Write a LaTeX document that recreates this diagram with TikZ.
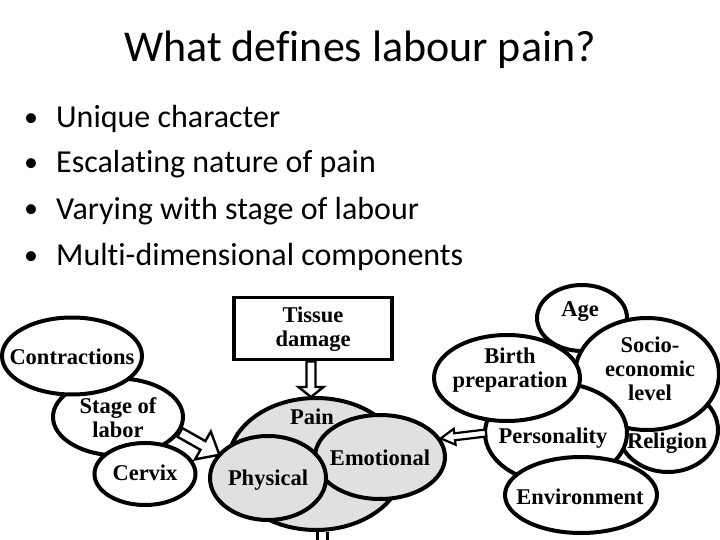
\documentclass[tikz,border=0pt]{standalone}
\usepackage{fontspec}
\setmainfont{Liberation Serif}
\newfontfamily\slidefont[Ligatures=NoCommon]{Carlito}
\usetikzlibrary{shapes.geometric,calc}
\newcommand{\blockarrow}[6][]{%
  \path ($(#3)!#6!(#2)$) coordinate (hb);
  \draw[harrow,#1] ($(#2)!#4!90:(#3)$) -- ($(hb)!#4!90:(#3)$) -- ($(hb)!#5!90:(#3)$) -- (#3)
    -- ($(hb)!#5!-90:(#3)$) -- ($(hb)!#4!-90:(#3)$) -- ($(#2)!#4!-90:(#3)$) -- cycle;}
\tikzset{
  ell/.style={draw=black, line width=4pt, fill=white, ellipse, inner sep=0pt},
  grey/.style={fill=black!12},
  lbl/.style={font=\fontsize{22.5}{24}\selectfont\bfseries, align=center, inner sep=0pt},
  harrow/.style={draw=black, line width=2.4pt, fill=white, line join=miter},
  ttl/.style={font=\slidefont\fontsize{44}{48}\selectfont, inner sep=0pt},
  bul/.style={font=\slidefont\fontsize{32}{36}\selectfont, inner sep=0pt},
  bulmark/.style={font=\slidefont\fontsize{28}{32}\selectfont, inner sep=0pt},
}
\begin{document}
\begin{tikzpicture}[x=1pt,y=-1pt]
\useasboundingbox (0,0) rectangle (720,540);
% title and bullets
\node[ttl, anchor=base] (title) at (360,62) {What defines labour pain?};
\node[bulmark, anchor=base] (b1) at (31,127) {•};
\node[bul, anchor=base west] (t1) at (56,128) {Unique character};
\node[bulmark, anchor=base] (b2) at (31,172) {•};
\node[bul, anchor=base west] (t2) at (56,173) {Escalating nature of pain};
\node[bulmark, anchor=base] (b3) at (31,218) {•};
\node[bul, anchor=base west] (t3) at (56,219) {Varying with stage of labour};
\node[bulmark, anchor=base] (b4) at (31,264) {•};
\node[bul, anchor=base west] (t4) at (56,265) {Multi-dimensional components};
% left cluster
\node[ell, minimum width=130pt, minimum height=77pt] (stage) at (118,417) {};
\node[lbl] (stagel) at (118,418) {Stage of\\labor};
\node[ell, minimum width=140pt, minimum height=77pt] (contr) at (72,356) {};
\node[lbl] (contrl) at (72,357) {Contractions};
\node[ell, minimum width=101pt, minimum height=62pt] (cervix) at (145,474) {};
\node[lbl] (cervixl) at (145,473) {Cervix};
% tissue damage
\node[draw=black, line width=3.6pt, fill=white, minimum width=158pt, minimum height=62pt, inner sep=0pt] (tissue) at (313,328.5) {};
\node[lbl] (tissuel) at (313,329) {Tissue\\damage};
% pain
\node[ell, grey, minimum width=176pt, minimum height=132pt] (pain) at (316,464) {};
\node[lbl] (painl) at (312,417) {Pain};
\node[ell, grey, minimum width=130pt, minimum height=84pt] (emo) at (380,457) {};
\node[lbl] (emol) at (380,458) {Emotional};
\node[ell, grey, minimum width=116pt, minimum height=84pt] (phys) at (268,478) {};
\node[lbl] (physl) at (268,480) {Physical};
% right cluster
\node[ell, minimum width=90pt, minimum height=66pt] (age) at (582,318) {};
\node[lbl] (agel) at (580,312) {Age};
\node[ell, minimum width=100pt, minimum height=84pt] (rel) at (668,430) {};
\node[lbl] (rell) at (667,443) {Religion};
\node[ell, minimum width=144pt, minimum height=112pt] (socio) at (647,374) {};
\node[lbl] (sociol) at (650,369) {Socio-\\economic\\level};
\node[ell, minimum width=142pt, minimum height=100pt] (pers) at (556,433) {};
\node[lbl] (persl) at (553,438) {Personality};
\node[ell, minimum width=146pt, minimum height=86pt] (birth) at (507,378) {};
\node[lbl] (birthl) at (510,370) {Birth\\preparation};
\node[ell, minimum width=152pt, minimum height=76pt] (env) at (581,495) {};
\node[lbl] (envl) at (580,497) {Environment};
% arrows
\coordinate (tissueout) at ([xshift=-2pt]tissue.south);
\coordinate (painin) at ([yshift=-1pt]tissueout |- pain.north);
\blockarrow{tissueout}{painin}{4.5pt}{12.5pt}{10pt}
\coordinate (stageout) at (stage.-14);
\coordinate (physin) at ([shift={(4pt,2pt)}]phys.158);
\blockarrow{stageout}{physin}{5pt}{16pt}{19pt}
\coordinate (persout) at ([xshift=3pt]pers.180);
\coordinate (emoin) at (emo.17);
\blockarrow[line width=2.2pt]{persout}{emoin}{3.5pt}{8pt}{14pt}
% arrow leaving the bottom
\coordinate (painoutl) at (317.5,532);
\coordinate (painoutr) at (327.5,532);
\coordinate (edgel) at (317.5,540);
\coordinate (edger) at (327.5,540);
\draw[line width=2.4pt] (painoutl) -- (edgel) (painoutr) -- (edger);
\end{tikzpicture}
\end{document}
